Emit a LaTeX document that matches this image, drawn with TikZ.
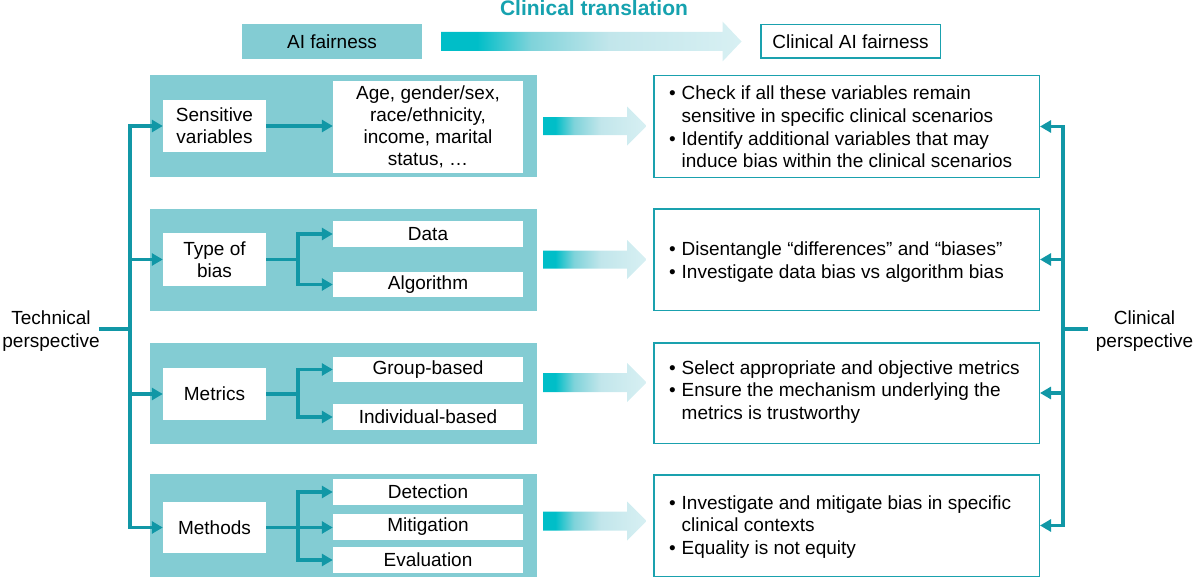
\documentclass[tikz,border=0pt]{standalone}
\usepackage{fontspec}
\setmainfont{Liberation Sans}
\usetikzlibrary{arrows.meta}
\definecolor{panel}{HTML}{83CCD3}
\definecolor{tline}{HTML}{1197A6}
\definecolor{tborder}{HTML}{1AA1AE}
\definecolor{ttitle}{HTML}{16A2AF}
\definecolor{gdark}{HTML}{00BEC8}
\definecolor{gmid}{HTML}{7FD3DA}
\definecolor{glighta}{HTML}{C2E6EB}
\definecolor{glightb}{HTML}{D8F0F3}
\pgfdeclarehorizontalshading{tealfade}{100bp}{color(0bp)=(gdark); color(25bp)=(gdark); color(31bp)=(gdark); color(40bp)=(gmid); color(53bp)=(glighta); color(75bp)=(glightb); color(100bp)=(glightb)}
\newcommand\bul{\makebox[12.5pt][l]{\textbullet}}
\newcommand\ind{\makebox[12.5pt]{}}
% gradient arrow: x0, x1 (head base), x2 (tip), yc, half shaft, half head
\newcommand\gradarr[6]{%
  \shade[shading=tealfade] (#1,{#4-#5}) -- (#2,{#4-#5}) -- (#2,{#4-#6}) -- (#3,#4)
    -- (#2,{#4+#6}) -- (#2,{#4+#5}) -- (#1,{#4+#5}) -- cycle;}
\begin{document}
\begin{tikzpicture}[x=1pt,y=-1pt,font=\fontsize{19}{22}\selectfont,
  panelbox/.style={fill=panel,draw=none,inner sep=0pt},
  whitebox/.style={fill=white,draw=none,inner sep=0pt,align=center},
  rbox/.style={fill=white,draw=tborder,line width=1.5pt,inner sep=0pt},
  conn/.style={draw=tline,line width=3.2pt},
  tip/.style={-{Triangle[length=11pt,width=12pt]}},
  label/.style={inner sep=0pt,align=center,font=\fontsize{19}{23.5}\selectfont}]
\useasboundingbox (0,0) rectangle (1200,578);

% header
\node[anchor=base,inner sep=0pt,text=ttitle,font=\fontsize{21}{24}\selectfont\bfseries] (title) at (594,16) {Clinical translation};
\node[panelbox,minimum width=180pt,minimum height=35pt] (aif) at (332,41.5) {AI fairness};
\node[rbox,minimum width=179.5pt,minimum height=33.5pt] (caif) at (850.5,41.5) {Clinical AI fairness};
\gradarr{441}{722.5}{741.5}{41.5}{9.5}{20}

% left panels
\node[panelbox,minimum width=387pt,minimum height=102pt] (p1) at (343.5,126) {};
\node[panelbox,minimum width=387pt,minimum height=102pt] (p2) at (343.5,260) {};
\node[panelbox,minimum width=387pt,minimum height=101pt] (p3) at (343.5,393.5) {};
\node[panelbox,minimum width=387pt,minimum height=103pt] (p4) at (343.5,525.5) {};

% left inner boxes
\node[whitebox,minimum width=103pt,minimum height=52pt] (sv) at (214.5,126) {Sensitive\\variables};
\node[whitebox,minimum width=103pt,minimum height=53pt] (tob) at (214.5,259.5) {Type of\\bias};
\node[whitebox,minimum width=103pt,minimum height=52pt] (met) at (214.5,394) {Metrics};
\node[whitebox,minimum width=103pt,minimum height=51pt] (meth) at (214.5,527.5) {Methods};

% right inner boxes
\node[whitebox,minimum width=190pt,minimum height=92pt] (age) at (428,127) {Age, gender/sex,\\race/ethnicity,\\income, marital\\status, …};
\node[whitebox,minimum width=190pt,minimum height=26pt] (data) at (428,234) {Data};
\node[whitebox,minimum width=190pt,minimum height=25pt] (algo) at (428,284.5) {Algorithm};
\node[whitebox,minimum width=190pt,minimum height=25pt] (grp) at (428,369.5) {Group-based};
\node[whitebox,minimum width=190pt,minimum height=26pt] (ind) at (428,417) {Individual-based};
\node[whitebox,minimum width=190pt,minimum height=26pt] (det) at (428,492) {Detection};
\node[whitebox,minimum width=190pt,minimum height=26pt] (mit) at (428,527) {Mitigation};
\node[whitebox,minimum width=190pt,minimum height=26pt] (eva) at (428,560) {Evaluation};

% inner connectors
\draw[conn,tip] (sv.east) -- (sv.east -| age.west);
\coordinate (b2) at (298,259.5);
\coordinate (b3) at (298,394);
\coordinate (b4) at (298,527.5);
\draw[conn] (tob.east) -- (b2);
\draw[conn,tip] (b2) |- (data.west);
\draw[conn,tip] (b2) |- (algo.west);
\draw[conn] (met.east) -- (b3);
\draw[conn,tip] (b3) |- (grp.west);
\draw[conn,tip] (b3) |- (ind.west);
\draw[conn,tip] (meth.east) -- (meth.east -| mit.west);
\draw[conn,tip] (b4) |- (det.west);
\draw[conn,tip] (b4) |- (eva.west);

% gradient arrows
\gradarr{543}{627}{646.5}{126}{9}{19.5}
\gradarr{543}{627}{646.5}{259.5}{9}{19.5}
\gradarr{543}{627}{646.5}{382.5}{9.5}{19.5}
\gradarr{543}{627}{646.5}{521}{9.5}{19.5}

% right boxes
\node[rbox,minimum width=385.5pt,minimum height=101.5pt] (r1) at (846.5,126.5) {};
\node[rbox,minimum width=385.5pt,minimum height=101.5pt] (r2) at (846.5,259.5) {};
\node[rbox,minimum width=385.5pt,minimum height=100.5pt] (r3) at (846.5,393) {};
\node[rbox,minimum width=385.5pt,minimum height=101.5pt] (r4) at (846.5,525.5) {};
\node[anchor=west,align=left,inner sep=0pt,font=\fontsize{19}{22.8}\selectfont] (t1) at (669,127) {\bul Check if all these variables remain\\\ind sensitive in specific clinical scenarios\\\bul Identify additional variables that may\\\ind induce bias within the clinical scenarios};
\node[anchor=west,align=left,inner sep=0pt,font=\fontsize{19}{22.8}\selectfont] (t2) at (669,262) {\bul Disentangle “differences” and “biases”\\\bul Investigate data bias vs algorithm bias};
\node[anchor=west,align=left,inner sep=0pt,font=\fontsize{19}{22.8}\selectfont] (t3) at (669,392) {\bul Select appropriate and objective metrics\\\bul Ensure the mechanism underlying the\\\ind metrics is trustworthy};
\node[anchor=west,align=left,inner sep=0pt,font=\fontsize{19}{22.8}\selectfont] (t4) at (669,527) {\bul Investigate and mitigate bias in specific\\\ind clinical contexts\\\bul Equality is not equity};

% perspectives
\node[label] (tech) at (51,331) {Technical\\perspective};
\node[label] (clin) at (1144.5,331) {Clinical\\perspective};

\coordinate (lx) at (130,329);
\draw[conn] ([xshift=-1pt]tech.east |- lx) -- (lx);
\draw[conn,tip] (lx |- meth.west) |- (sv.west);
\draw[conn,tip] (lx |- sv.west) |- (meth.west);
\draw[conn,tip] (lx |- tob.west) -- (tob.west);
\draw[conn,tip] (lx |- met.west) -- (met.west);

\coordinate (rx) at (1063,329);
\draw[conn] (rx) -- ([xshift=-8pt]clin.west |- rx);
\draw[conn,tip] (rx |- r4.east) |- (r1.east);
\draw[conn,tip] (rx |- r1.east) |- (r4.east);
\draw[conn,tip] (rx |- r2.east) -- (r2.east);
\draw[conn,tip] (rx |- r3.east) -- (r3.east);
\end{tikzpicture}
\end{document}
